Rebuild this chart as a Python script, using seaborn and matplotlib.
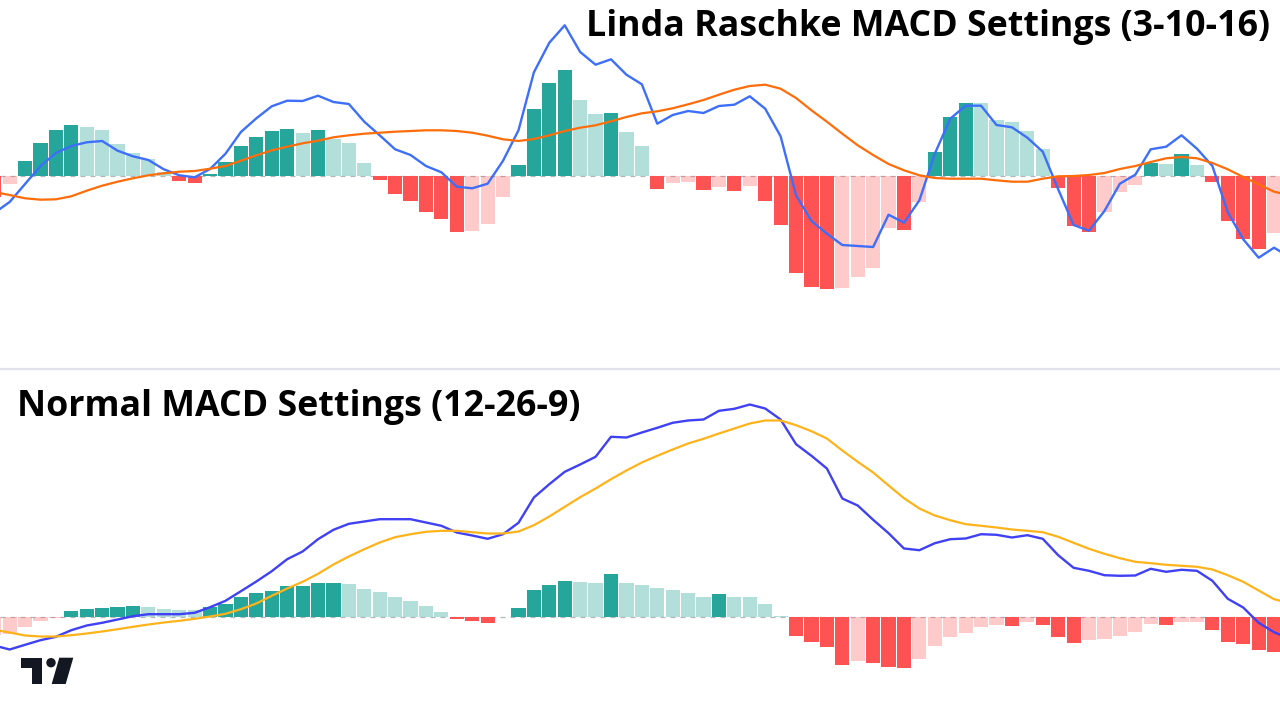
import matplotlib
matplotlib.use("Agg")
import matplotlib.pyplot as plt
from matplotlib.patches import Circle, Polygon
import pandas as pd
import seaborn as sns

# Values, one per session
top_hist = [-21, -8, 14.7, 32.7, 45.7, 50.7, 48.7, 45.7, 31.7, 22.7,
            16.7, 4, -4.7, -6.7, 1.7, 13.7, 29.7, 38.7, 44.7, 46.7,
            42.7, 45.7, 36.7, 32.7, 12.7, -3.7, -17.7, -24.7, -35.7, -42.7,
            -56, -55, -47.7, -21.3, 10.7, 66.7, 93, 106, 75.7, 61.7,
            62.7, 43.7, 29.7, -12.7, -7.3, -6.3, -13.7, -11.3, -14.7, -10.3,
            -24.7, -48.7, -97.3, -111.3, -113.3, -112.3, -101.3, -92.3, -52.3, -54,
            -26, 23.7, 58.7, 72.7, 72.7, 55.7, 53.7, 44.7, 26.7, -11.7,
            -50, -56, -36, -15.7, -8.7, 12.7, 11.7, 21.7, 10.7, -5.7,
            -44.7, -63, -73, -57, -50]
top_strong = [1, 0, 1, 1, 1, 1, 0, 0, 0, 0,
              0, 0, 1, 1, 1, 1, 1, 1, 1, 1,
              0, 1, 0, 0, 0, 1, 1, 1, 1, 1,
              1, 0, 0, 0, 1, 1, 1, 1, 0, 0,
              1, 0, 0, 1, 0, 0, 1, 0, 1, 0,
              1, 1, 1, 1, 1, 0, 0, 0, 0, 1,
              0, 1, 1, 1, 0, 0, 0, 0, 0, 1,
              1, 1, 0, 0, 0, 1, 0, 1, 0, 1,
              1, 1, 1, 0, 0]
top_macd = [-37, -26, -8, 10, 23, 30, 33.7, 35, 25.3, 19.7,
            16, 6.7, 0.7, -1.3, 7, 22.3, 44, 57.7, 69.7, 75.3,
            75, 80.3, 74, 72, 54.3, 40.7, 26.7, 21, 10, 3.7,
            -10.7, -12.3, -7.7, 15.3, 45.7, 103.7, 133.3, 150.7, 124, 111.3,
            116.7, 101.3, 91.7, 52.3, 61, 65, 63, 70, 71.3, 79.7,
            67.3, 39.7, -19.3, -45, -57.7, -69, -70, -71, -38.7, -46.7,
            -24.3, 22.3, 57.3, 70.3, 70.3, 51, 48.7, 38.3, 24.3, -13.3,
            -49, -54.7, -35, -7.7, 1.3, 26.7, 29.3, 40.7, 27.3, 10,
            -36.3, -63.3, -81.7, -71.7, -81]
top_signal = [-16, -19, -22.3, -23.7, -23.3, -20.3, -14.7, -9.7, -5.7, -2.3,
              0.7, 2.7, 4.3, 5, 7.3, 10, 15.3, 20.7, 25.7, 29.3,
              32.7, 35.3, 38.7, 40.7, 42.3, 43.3, 44.3, 45, 45.7, 45.7,
              45, 43.3, 40.3, 36.7, 35, 37, 40.7, 45, 48.3, 50.7,
              54.7, 59, 62.7, 64.7, 67.7, 71.7, 76, 81.3, 86.3, 90,
              91.3, 87.3, 78, 65.7, 54.3, 42.3, 30.7, 21, 12, 5.7,
              0.7, -2, -2.7, -2.7, -2.7, -4.3, -5.7, -5.7, -2.7, -0.3,
              0, 1, 3, 7, 10, 14, 17.7, 19, 17.7, 13,
              6.7, -1, -8.3, -15.7, -19.3]

bottom_hist = [-18.3, -17, -10.3, -4.3, -1.7, 5.3, 7.3, 8.7, 9.3, 10.7,
               9.7, 7.7, 6.7, 6.3, 9.7, 12.7, 19.7, 23.7, 25.7, 30.7,
               30.7, 33.7, 33.7, 32.7, 27.7, 24.7, 19.7, 15.7, 10.7, 4.7,
               -2.7, -4.7, -6.7, -0.7, 8.7, 26.7, 31.7, 35.7, 34.7, 33.7,
               42.7, 33.7, 31.7, 28.7, 26.7, 23.7, 19.7, 22.7, 19.7, 19.7,
               12.7, 0.3, -19.7, -25.7, -30.7, -48.7, -44.3, -46.3, -50.3, -51.3,
               -42.3, -29, -20, -16, -10, -8, -9, -5, -8, -20,
               -26.3, -23, -22, -19, -15, -7, -8, -5, -5, -13,
               -25.3, -27.3, -33.3, -35.3, -38]
bottom_strong = [0, 0, 0, 0, 0, 1, 1, 1, 1, 1,
                 0, 0, 0, 0, 1, 1, 1, 1, 1, 1,
                 1, 1, 1, 0, 0, 0, 0, 0, 0, 0,
                 1, 1, 1, 0, 1, 1, 1, 1, 0, 0,
                 1, 0, 0, 0, 0, 0, 0, 1, 0, 0,
                 0, 0, 1, 1, 1, 1, 0, 1, 1, 1,
                 0, 0, 0, 0, 0, 0, 1, 0, 1, 1,
                 1, 0, 0, 0, 0, 0, 1, 0, 0, 1,
                 1, 1, 1, 1, 1]
bottom_macd = [-29, -33, -28.3, -23.7, -20.3, -13.7, -9, -6.3, -3, 0.3,
               2.3, 2.3, 2.3, 3.7, 9.3, 15.7, 25.3, 35, 45.3, 57.3,
               65, 77.3, 86.7, 92.7, 95, 97.3, 97.3, 97.3, 94, 90.7,
               84, 81, 77.7, 82.3, 93.7, 119, 132.3, 144.7, 152, 159.7,
               179.7, 179, 184, 188.7, 193.7, 196, 197, 205.7, 207.7, 212,
               208, 197, 172.3, 160.7, 148, 118, 111, 96.7, 83.3, 68,
               66.3, 73.3, 77.3, 78, 82.3, 81.7, 79, 81.3, 77.7, 61.3,
               48.7, 45.7, 41.3, 40.7, 41, 47.7, 44.7, 46.7, 45.7, 35.7,
               17.7, 9, -6.3, -15.7, -22.3]
bottom_signal = [-13.3, -16, -19, -20, -20, -18.7, -17, -15, -12.7, -10.3,
                 -8, -6, -4.3, -2.3, 0, 2.7, 7.3, 13, 20.7, 28,
                 34.7, 42.7, 52, 60, 67.3, 74, 79.3, 82.3, 84.7, 85.7,
                 85.7, 84.3, 83, 83, 85, 91.3, 100, 109.7, 119.3, 128,
                 137.3, 146, 154, 160.7, 167, 173, 177.7, 183, 188, 193,
                 196, 196, 191.3, 185.3, 178, 166, 154.7, 144, 131, 118.3,
                 108, 101, 96.3, 92.3, 90.7, 89, 87, 85.7, 84.3, 79.7,
                 73.7, 67.7, 62.7, 58.3, 54.7, 53.3, 51.7, 50.7, 49.7, 47,
                 41.3, 34.7, 26, 17.3, 13.3]

top_title = "Linda Raschke MACD Settings (3-10-16)"
bottom_title = "Normal MACD Settings (12-26-9)"

PHASES = ["up_strong", "up_fade", "down_strong", "down_fade"]
PALETTE = dict(zip(PHASES, ["#26A69A", "#26A69A", "#FF5252", "#FF5252"]))
FADE_ALPHA = {"up_fade": 0.35, "down_fade": 0.3}


def px_box(y0, y1):
    # axes box from pixel rows, full width
    return [0, 1 - y1 / 720, 1, (y1 - y0) / 720]


def make_frame(hist, strong):
    df = pd.DataFrame({"bar": range(len(hist)), "hist": hist, "strong": strong})
    df["phase"] = [("up" if h >= 0 else "down") + ("_strong" if s else "_fade")
                   for h, s in zip(df["hist"], df["strong"])]
    return df


def draw_pane(ax, hist, strong, macd, signal, macd_color, signal_color, ylim):
    df = make_frame(hist, strong)
    ax.axhline(0, color="#9598A1", linestyle=(0, (4, 4)), linewidth=0.9, alpha=0.7, zorder=0.5)
    sns.barplot(data=df, x="bar", y="hist", hue="phase", hue_order=PHASES, palette=PALETTE,
                dodge=False, native_scale=True, width=0.92, saturation=1, linewidth=0,
                legend=False, ax=ax)
    for container, phase in zip(ax.containers, PHASES):
        if phase in FADE_ALPHA:
            for bar in container:
                bar.set_alpha(FADE_ALPHA[phase])
    sns.lineplot(x=df["bar"], y=macd, color=macd_color, linewidth=1.7, errorbar=None, sort=False, ax=ax, zorder=3)
    sns.lineplot(x=df["bar"], y=signal, color=signal_color, linewidth=1.6, errorbar=None, sort=False, ax=ax, zorder=4)
    # 15.42 px per session, first bar centred at -5.8 px
    ax.set_xlim(5.8 / 15.42, 1285.8 / 15.42)
    ax.set_ylim(*ylim)
    ax.axis("off")


sns.set_theme(style="white")
plt.rcParams["font.family"] = ["Open Sans", "DejaVu Sans"]

fig = plt.figure(figsize=(12.8, 7.2), dpi=100, facecolor="white")
ax_top = fig.add_axes(px_box(0, 368))
ax_bottom = fig.add_axes(px_box(371, 720))

draw_pane(ax_top, top_hist, top_strong, top_macd, top_signal, "#3D6FFA", "#FF6D0A", (-192, 176))
draw_pane(ax_bottom, bottom_hist, bottom_strong, bottom_macd, bottom_signal, "#4040F5", "#FFB31A", (-103.5, 245.5))

# pane separator
fig.add_artist(plt.Line2D([0, 1], [1 - 369.5 / 720] * 2, color="#E0E3EB", linewidth=1.6))

fig.text(1270 / 1280, 1 - 36 / 720, top_title, ha="right", va="baseline",
         fontsize=25.77, fontweight="bold", color="black")
fig.text(17 / 1280, 1 - 416 / 720, bottom_title, ha="left", va="baseline",
         fontsize=25.77, fontweight="bold", color="black")


def logo_xy(points):
    return [(x / 1280, 1 - y / 720) for x, y in points]


# TradingView mark
logo_color = "#131722"
fig.add_artist(Polygon(logo_xy([(21, 657.7), (42.3, 657.7), (42.3, 684), (32.3, 684), (32.3, 668.3), (21, 668.3)]),
                       closed=True, color=logo_color, transform=fig.transFigure, linewidth=0))
fig.add_artist(Polygon(logo_xy([(59.3, 657.7), (73.3, 657.7), (65.7, 684), (51.7, 684)]),
                       closed=True, color=logo_color, transform=fig.transFigure, linewidth=0))
logo_dot = Circle((51 / 100, 7.2 - 662.7 / 100), 4.7 / 100, color=logo_color, linewidth=0,
                  transform=fig.dpi_scale_trans)
fig.add_artist(logo_dot)

fig.savefig("out.png", dpi=100)
